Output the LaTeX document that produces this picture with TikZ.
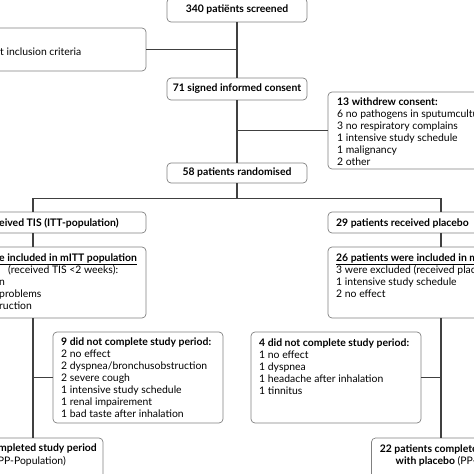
\documentclass[tikz,border=0pt]{standalone}
\usepackage{fontspec}
\setmainfont{Lato}
\usetikzlibrary{positioning}

\begin{document}
\begin{tikzpicture}[x=1pt, y=-1pt,
                box/.style={draw=black!50, rounded corners=4pt, line width=0.7pt,
                            inner sep=0pt, font=\fontsize{10.4}{12}\selectfont\bfseries},
                txt/.style={inner sep=0pt, align=left, anchor=base west,
                            font=\fontsize{10.4}{12}\selectfont},
                link/.style={draw=black!75, line width=1.3pt}
            ]
                \useasboundingbox (0,0) rectangle (474,474);
                \clip (0,0) rectangle (474,474);
                % boxes
                \node[box, minimum width=140pt, minimum height=24pt] (screen) at (237,10) {340 patiënts screened};
                \node[box, minimum width=226pt, minimum height=43pt] (excl) at (33,49.5) {};
                \node[box, minimum width=140pt, minimum height=22pt] (consent) at (237,89) {71 signed informed consent};
                \node[box, minimum width=226pt, minimum height=77pt] (withdrew) at (441,130.5) {};
                \node[box, minimum width=140pt, minimum height=20pt] (rand) at (237,173) {58 patients randomised};
                \node[box, minimum width=226pt, minimum height=21pt] (itt) at (33,222.5) {};
                \node[box, minimum width=226pt, minimum height=21pt] (pla) at (441,222.5) {};
                \node[box, minimum width=226pt, minimum height=71pt] (mitt) at (33,282.5) {};
                \node[box, minimum width=226pt, minimum height=71pt] (mitt2) at (441,282.5) {};
                \node[box, minimum width=170pt, minimum height=91pt] (drop1) at (138,377.5) {};
                \node[box, minimum width=170pt, minimum height=91pt] (drop2) at (336,377.5) {};
                \node[box, minimum width=181pt, minimum height=62pt] (pp1) at (12.5,469) {};
                \node[box, minimum width=181pt, minimum height=62pt] (pp2) at (462,469) {};
                % texts (multi-line nodes sit on their last line)
                \node[txt] (excltxt) at (0,55.5) {t inclusion criteria};
                \node[txt] (wtxt) at (337,165.5) {\textbf{13 withdrew consent:}\\6 no pathogens in sputumculture\\3 no respiratory complains\\1 intensive study schedule\\1 malignancy\\2 other};
                \node[txt] (itttxt) at (-1,226.5) {\textbf{eived TIS (ITT-population)}};
                \node[txt] (platxt) at (336,226.5) {\textbf{29 patients received placebo}};
                \node[txt] (mtxta) at (-1,261.5) {\underline{\textbf{e included in mITT population}}};
                \node[txt] (mtxtb) at (8,273.5) {(received TIS <2 weeks):};
                \node[txt] (mtxtc) at (-1,285.5) {n};
                \node[txt] (mtxtd) at (-1,297.5) {problems};
                \node[txt] (mtxte) at (-1,309.5) {ruction};
                \node[txt] (m2txt) at (336,297.5) {\underline{\textbf{26 patients were included in mITT}}\\3 were excluded (received placebo\\1 intensive study schedule\\2 no effect};
                \node[txt] (d1txt) at (61,417.5) {\textbf{9 did not complete study period:}\\2 no effect\\2 dyspnea/bronchusobstruction\\2 severe cough\\1 intensive study schedule\\1 renal impairement\\1 bad taste after inhalation};
                \node[txt] (d2txt) at (259,394.5) {\textbf{4 did not complete study period:}\\1 no effect\\1 dyspnea\\1 headache after inhalation\\1 tinnitus};
                \node[txt, anchor=base east] (pp1txta) at (97,451.5) {\textbf{ompleted study period}};
                \node[txt, anchor=base east] (pp1txtb) at (66,464.5) {(PP-Population)};
                \node[txt, align=center, anchor=base] (pp2txt) at (462,464.5) {\textbf{22 patients completed study period}\\\textbf{with placebo} (PP-Population)};
                % connectors
                \draw[link] (screen) -- (consent);
                \draw[link] (excl.east) -- (excl.east -| screen.south);
                \draw[link] (consent) -- (rand);
                \draw[link] (withdrew.west) -- (withdrew.west -| consent.south);
                \draw[link] (rand.south) -- ++(0,15) coordinate (split);
                \draw[link] (itt.north) |- (split) -| (pla.north);
                \draw[link] (itt) -- (mitt);
                \draw[link] (pla) -- (mitt2);
                \draw[link] (mitt.south) -- (mitt.south |- pp1.north);
                \draw[link] (mitt2.south) -- (mitt2.south |- pp2.north);
                \draw[link] (drop1.west) -- (drop1.west -| mitt.south);
                \draw[link] (drop2.east) -- (drop2.east -| mitt2.south);
            \end{tikzpicture}
\end{document}
